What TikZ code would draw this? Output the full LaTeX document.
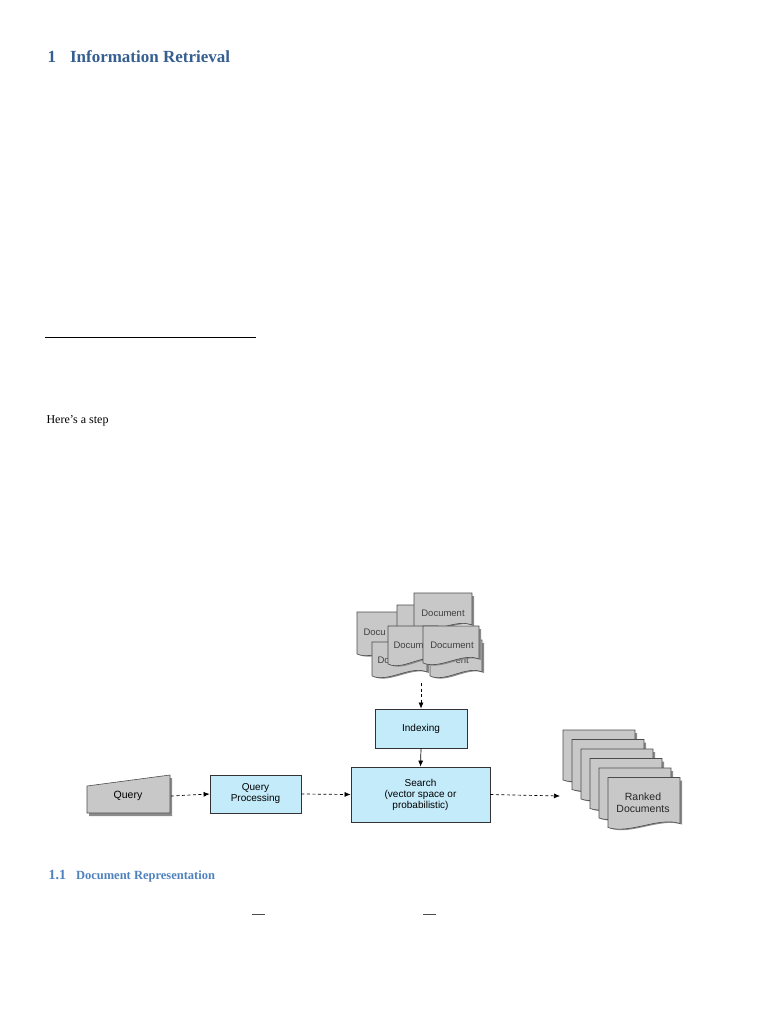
\documentclass[tikz,border=0pt]{standalone}
\usepackage{fontspec}
\setmainfont{Liberation Serif}
\newfontfamily\dsans{Liberation Sans}
\usetikzlibrary{arrows.meta}
\definecolor{headblue}{HTML}{365F91}
\definecolor{subblue}{HTML}{4F81BD}
\definecolor{boxblue}{HTML}{C3EBFA}
\definecolor{pagegray}{HTML}{C8C8C8}
\tikzset{
  procbox/.style={draw=black!80, fill=boxblue, line width=0.8pt, align=center, font=\dsans\fontsize{10}{11}\selectfont, inner sep=0pt},
  flow/.style={-{Latex[length=6pt,width=5pt]}, line width=0.7pt, dashed, dash pattern=on 3pt off 2.5pt},
  solidflow/.style={-{Latex[length=6pt,width=5pt]}, line width=0.7pt},
  doclabel/.style={font=\dsans\fontsize{9.5}{11}\selectfont, text=black!75, align=center}
}
% \pg{x}{y}{w}{h}
\newcommand{\pg}[4]{%
  \fill[black!45] ({#1+2},{#2+3}) -- ({#1+#3+2},{#2+3}) -- ({#1+#3+2},{#2+#4-3}) .. controls ({#1+0.7*#3+2},{#2+#4-10}) and ({#1+0.3*#3+2},{#2+#4+8}) .. ({#1+2},{#2+#4+1}) -- cycle;
  \draw[fill=pagegray, line width=0.6pt, draw=black!70] (#1,#2) -- ({#1+#3},#2) -- ({#1+#3},{#2+#4-4}) .. controls ({#1+0.7*#3},{#2+#4-11}) and ({#1+0.3*#3},{#2+#4+7}) .. (#1,{#2+#4}) -- cycle;}
\begin{document}
\begin{tikzpicture}[x=1pt,y=-1pt]
\useasboundingbox (0,0) rectangle (768,1024);
\node[anchor=west, text=headblue, font=\bfseries\fontsize{17}{20}\selectfont] (h1) at (44,57) {1\hspace{14pt}Information Retrieval};
\draw[line width=0.6pt] (45,337) -- (256,337);
\node[anchor=west, font=\fontsize{12}{14}\selectfont] (txt) at (43,421) {Here’s a step};
% document stack
\pg{357}{612}{58}{42}
\node[doclabel, anchor=west] at (360,632) {Docu};
\pg{397}{605}{50}{40}
\pg{414}{593}{58}{36}
\node[doclabel] at (443,613) {Document};
\pg{372}{642}{55}{34}
\node[doclabel, anchor=west] at (374,660) {Do};
\pg{430}{640}{52}{36}
\node[doclabel, anchor=west] at (452,660) {ent};
\pg{388}{626}{50}{38}
\node[doclabel, anchor=west] at (390,645) {Docum};
\pg{423}{626}{56}{37}
\node[doclabel] at (452,645) {Document};
\coordinate (docs) at (421,683);
% ranked documents
\foreach \i in {0,...,5} {\pg{563+9*\i}{730+9.5*\i}{72}{50}}
\node[doclabel, font=\dsans\fontsize{10.5}{12}\selectfont, text=black!85] (ranked) at (643,803) {Ranked\\Documents};
\coordinate (rankin) at (560,796);
% query
\fill[black!45] (89,789) -- (172,778) -- (172,816) -- (89,816) -- cycle;
\draw[fill=pagegray, line width=0.6pt, draw=black!70] (87,786) -- (170,775) -- (170,813) -- (87,813) -- cycle;
\node[font=\dsans\fontsize{10.5}{12}\selectfont] (query) at (128,796) {Query};
\coordinate (qout) at (171,796);
\node[procbox, minimum width=91pt, minimum height=38pt] (qp) at (255.5,794) {Query\\Processing};
\node[procbox, minimum width=139pt, minimum height=55pt] (search) at (420.5,794.5) {Search\\(vector space or\\probabilistic)};
\node[procbox, minimum width=92pt, minimum height=39pt] (index) at (421,728.5) {Indexing};
\draw[flow] (docs) -- (index.north);
\draw[solidflow] (index.south) -- (search.north);
\draw[flow] (qout) -- (qp.west);
\draw[flow] (qp.east) -- (search.west);
\draw[flow] (search.east) -- (rankin);
\node[anchor=west, text=subblue, font=\bfseries\fontsize{14}{16}\selectfont] (h2) at (45,876) {1.1\hspace{10pt}{\fontsize{12.5}{15}\selectfont Document Representation}};
\draw[line width=0.8pt, black!70] (252,914) -- (265,914);
\draw[line width=0.8pt, black!70] (423,914) -- (436,914);
\end{tikzpicture}
\end{document}
